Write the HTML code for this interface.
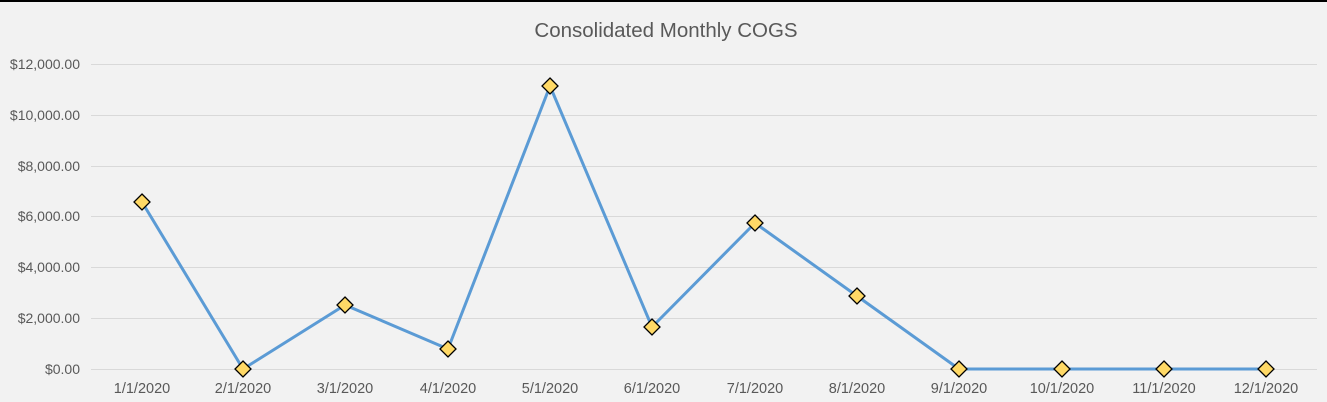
<!DOCTYPE html>
<html><head><style>
html,body{margin:0;padding:0;background:#f2f2f2;}
svg{display:block;font-family:"Liberation Sans",sans-serif;}
</style></head><body>
<svg width="1327" height="402" viewBox="0 0 1327 402">
<rect width="1327" height="402" fill="#f2f2f2"/>
<line x1="0" y1="1" x2="1327" y2="1" stroke="#000" stroke-width="2"/>
<text x="666" y="37" text-anchor="middle" font-size="20.5" fill="#595959">Consolidated Monthly COGS</text>
<g stroke="#d9d9d9" stroke-width="1">
<line x1="91" y1="64.5" x2="1317" y2="64.5"/>
<line x1="91" y1="115.5" x2="1317" y2="115.5"/>
<line x1="91" y1="166.5" x2="1317" y2="166.5"/>
<line x1="91" y1="216.5" x2="1317" y2="216.5"/>
<line x1="91" y1="267.5" x2="1317" y2="267.5"/>
<line x1="91" y1="318.5" x2="1317" y2="318.5"/>
<line x1="91" y1="369.5" x2="1317" y2="369.5"/>
</g>
<g font-size="14" fill="#595959" text-anchor="end">
<text x="80" y="69">$12,000.00</text>
<text x="80" y="120">$10,000.00</text>
<text x="80" y="171">$8,000.00</text>
<text x="80" y="221">$6,000.00</text>
<text x="80" y="272">$4,000.00</text>
<text x="80" y="323">$2,000.00</text>
<text x="80" y="374">$0.00</text>
</g>
<g font-size="14.5" fill="#595959" text-anchor="middle">
<text x="142" y="393">1/1/2020</text>
<text x="243" y="393">2/1/2020</text>
<text x="345" y="393">3/1/2020</text>
<text x="448" y="393">4/1/2020</text>
<text x="550" y="393">5/1/2020</text>
<text x="652" y="393">6/1/2020</text>
<text x="755" y="393">7/1/2020</text>
<text x="857" y="393">8/1/2020</text>
<text x="959" y="393">9/1/2020</text>
<text x="1062" y="393">10/1/2020</text>
<text x="1164" y="393">11/1/2020</text>
<text x="1266" y="393">12/1/2020</text>
</g>
<polyline fill="none" stroke="#5b9bd5" stroke-width="3" stroke-linejoin="round"
points="142,202 243,369 345,305 448,349 550,86 652,327 755,223 857,296 959,369 1062,369 1164,369 1266,369"/>
<g fill="#ffd966" stroke="#000" stroke-width="1.3">
<path d="M142,194l8,8l-8,8l-8,-8z"/>
<path d="M243,361l8,8l-8,8l-8,-8z"/>
<path d="M345,297l8,8l-8,8l-8,-8z"/>
<path d="M448,341l8,8l-8,8l-8,-8z"/>
<path d="M550,78l8,8l-8,8l-8,-8z"/>
<path d="M652,319l8,8l-8,8l-8,-8z"/>
<path d="M755,215l8,8l-8,8l-8,-8z"/>
<path d="M857,288l8,8l-8,8l-8,-8z"/>
<path d="M959,361l8,8l-8,8l-8,-8z"/>
<path d="M1062,361l8,8l-8,8l-8,-8z"/>
<path d="M1164,361l8,8l-8,8l-8,-8z"/>
<path d="M1266,361l8,8l-8,8l-8,-8z"/>
</g>
</svg>
</body></html>
